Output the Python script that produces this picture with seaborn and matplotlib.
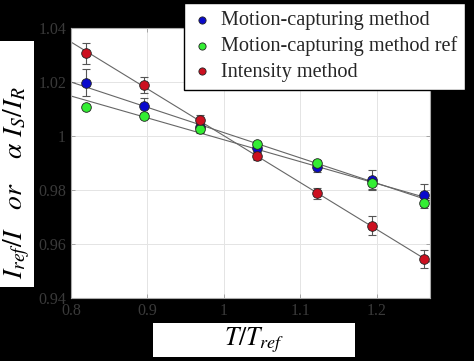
import numpy as np
import pandas as pd
import matplotlib.pyplot as plt
import seaborn as sns
from matplotlib.patches import Rectangle
from matplotlib.ticker import FormatStrFormatter

# data
t_ratio = [0.82, 0.895, 0.969, 1.044, 1.122, 1.194, 1.262]
motion = [1.0197, 1.0111, 1.0035, 0.9954, 0.9886, 0.9837, 0.9782]
motion_err = [0.005, 0.003, 0.0015, 0.0015, 0.002, 0.0037, 0.004]
motion_ref = [1.0106, 1.0075, 1.0026, 0.9969, 0.9901, 0.9825, 0.9753]
motion_ref_err = [0.0, 0.001, 0.0015, 0.001, 0.001, 0.002, 0.002]
intensity = [1.0306, 1.0188, 1.0059, 0.9927, 0.9788, 0.9667, 0.9543]
intensity_err = [0.004, 0.003, 0.002, 0.0015, 0.002, 0.0035, 0.0033]

series = [
    ("Motion-capturing method", motion, motion_err, "#0a0acc"),
    ("Motion-capturing method ref", motion_ref, motion_ref_err, "#33ee33"),
    ("Intensity method", intensity, intensity_err, "#cc1020"),
]

sns.set_style("whitegrid")
plt.rcParams['font.family'] = ['Liberation Serif', 'DejaVu Serif']
plt.rcParams['mathtext.fontset'] = 'stix'

fig = plt.figure(figsize=(4.74, 3.61), dpi=100, facecolor="black")
ax = fig.add_axes([71/474, 1-298/361, (430-71)/474, (298-28)/361])
ax.set_facecolor("white")
ax.set_xlim(0.8, 1.27)
ax.set_ylim(0.94, 1.04)

# fit lines over whole axis range
for name, vals, err, col in series:
    df = pd.DataFrame({"x": t_ratio, "y": vals})
    sns.regplot(data=df, x="x", y="y", ax=ax, scatter=False, ci=None,
                truncate=False, color="#666666", line_kws={"lw": 0.8, "zorder": 2})

for name, vals, err, col in series:
    ax.errorbar(t_ratio, vals, yerr=err, fmt="none", ecolor="#555555",
                elinewidth=0.8, capsize=3, capthick=0.8, zorder=3)

handles = []
for name, vals, err, col in series:
    h = ax.scatter(t_ratio, vals, s=48, color=col, edgecolor="#222222",
                   linewidth=0.6, zorder=4, label=name)
    handles.append(h)

ax.set_xlabel("")
ax.set_ylabel("")
ax.set_xticks([0.8, 0.9, 1.0, 1.1, 1.2])
ax.set_yticks([0.94, 0.96, 0.98, 1.0, 1.02, 1.04])
ax.xaxis.set_major_formatter(FormatStrFormatter("%g"))
ax.yaxis.set_major_formatter(FormatStrFormatter("%g"))
ax.tick_params(direction="in", length=3, width=0.6, colors="#999999",
               labelcolor="#3a3a3a", labelsize=11.5, top=True, right=True,
               bottom=True, left=True)
ax.grid(color="#e4e4e4", lw=0.7)
for sp in ax.spines.values():
    sp.set_color("#aaaaaa")
    sp.set_linewidth(0.8)

leg = ax.legend(handles=handles, loc="upper right",
                bbox_to_anchor=(465/474, 1-3/361), bbox_transform=fig.transFigure,
                borderaxespad=0, fontsize=14.6, frameon=True, fancybox=False,
                framealpha=1, edgecolor="black", handletextpad=0.4,
                labelspacing=0.3, borderpad=0.4, handlelength=1.0, markerscale=0.75)
leg.get_frame().set_linewidth(1.0)
leg.set_zorder(10)

# label boxes
fig.patches.append(Rectangle((0, 1-287/361), 34/474, 246/361, transform=fig.transFigure,
                             facecolor="white", edgecolor="none", zorder=0))
fig.text(17/474, 1-182/361, r"$I_{ref}/I\ \ \ or\quad\ \alpha\ I_S/I_R$", rotation=90,
         ha="center", va="center", fontsize=20, color="black")
fig.patches.append(Rectangle((153/474, 1-357/361), 202/474, 34/361, transform=fig.transFigure,
                             facecolor="white", edgecolor="none", zorder=0))
fig.text(254/474, 1-340/361, r"$T/T_{ref}$", ha="center", va="center",
         fontsize=18.5, color="black")

fig.savefig("out.png", dpi=100, facecolor="black")
